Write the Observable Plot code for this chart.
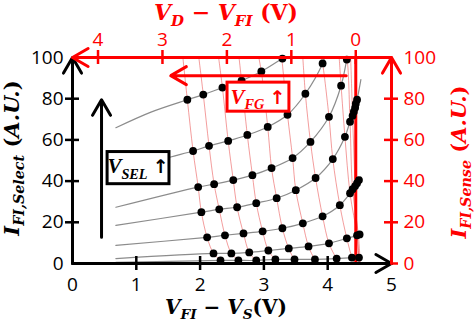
<!DOCTYPE html>
<html>
<head>
<meta charset="utf-8">
<script src="https://cdn.jsdelivr.net/npm/d3@7"></script>
<script src="https://cdn.jsdelivr.net/npm/@observablehq/plot@0.6"></script>
<style>
html,body{margin:0;padding:0;background:#fff;}
#chart svg{display:block;}
</style>
</head>
<body>
<div id="chart"></div>
<script>
// ---- axes / ticks ----
const xDomain = [0, 5];
const yDomain = [0, 100];
const xTickLabels = [0, 1, 2, 3, 4, 5];
const xTickMarks = [1, 2, 3, 4];
const yTickLabels = [0, 20, 40, 60, 80, 100];
const yTickMarksLeft = [20, 40, 60, 80];
const yTickMarksRight = [0, 20, 40, 60, 80];
const topTickLabels = [4, 3, 2, 1, 0];          // V_D − V_FI (V)
const topOffset = 4.44, topSlope = 1.01;        // V_FI − V_S = topOffset − topSlope·(V_D − V_FI)
const vdBoundary = [0];                         // V_D − V_FI = 0

// ---- select characteristics (grey), [V_FI − V_S, I] ----
const selA = [[0.68,65.9],[1.23,73.5],[1.80,79.5],[2.05,82.0],[2.35,85.4],[2.65,88.8],[2.96,93.2],[3.29,99.5],[3.32,100]];
const selB = [[0.68,44.4],[1.54,51.7],[1.89,54.6],[2.14,57.1],[2.44,59.5],[2.74,62.4],[3.06,66.3],[3.37,72.2],[3.65,82.4],[3.92,97.1],[3.95,100]];
const selC = [[0.68,27.3],[1.97,37.1],[2.22,38.5],[2.52,40.5],[2.82,42.9],[3.12,46.3],[3.45,51.2],[3.73,59.0],[4.02,71.2],[4.21,86.3],[4.30,99.0],[4.31,100]];
const selD = [[0.68,18.5],[2.02,24.9],[2.30,26.3],[2.58,27.3],[2.88,29.3],[3.20,31.7],[3.50,35.6],[3.81,41.5],[4.08,50.7],[4.27,61.5],[4.35,68.8],[4.41,73.7],[4.46,79.5],[4.52,89.3]];
const selE = [[0.68,8.8],[2.11,12.7],[2.39,13.7],[2.68,14.6],[2.98,15.6],[3.29,17.1],[3.61,19.5],[3.92,22.9],[4.19,28.3],[4.35,34.1],[4.43,37.6],[4.49,40.5],[4.52,42.0]];
const selF = [[0.68,2.4],[2.21,4.9],[2.49,4.9],[2.77,5.4],[3.07,6.3],[3.39,7.3],[3.70,8.3],[4.02,9.8],[4.30,12.2],[4.46,13.7],[4.52,15.1]];
const selG = [[0.68,0.5],[2.32,1.5],[2.60,1.5],[2.88,1.5],[3.18,2.0],[3.48,2.0],[3.80,2.0],[4.14,2.4],[4.38,2.9],[4.50,2.9]];

// ---- sense characteristics (red), [V_FI − V_S, I] ----
const sense1  = [[1.73,100],[1.80,79.5],[1.89,54.6],[1.97,37.1],[2.02,24.9],[2.11,12.7],[2.21,4.9],[2.32,1.5],[2.40,0]];
const sense2  = [[1.98,100],[2.05,82.0],[2.14,57.1],[2.22,38.5],[2.30,26.3],[2.39,13.7],[2.49,4.9],[2.60,1.5],[2.68,0]];
const sense3  = [[2.29,100],[2.35,85.4],[2.44,59.5],[2.52,40.5],[2.58,27.3],[2.68,14.6],[2.77,5.4],[2.88,1.5],[2.96,0]];
const sense4  = [[2.61,100],[2.65,88.8],[2.74,62.4],[2.82,42.9],[2.88,29.3],[2.98,15.6],[3.07,6.3],[3.18,2.0],[3.26,0]];
const sense5  = [[2.92,100],[2.96,93.2],[3.06,66.3],[3.12,46.3],[3.20,31.7],[3.29,17.1],[3.39,7.3],[3.48,2.0],[3.56,0]];
const sense6  = [[3.28,100],[3.37,72.2],[3.45,51.2],[3.50,35.6],[3.61,19.5],[3.70,8.3],[3.80,2.0],[3.87,0]];
const sense7  = [[3.61,100],[3.65,82.4],[3.73,59.0],[3.81,41.5],[3.92,22.9],[4.02,9.8],[4.14,2.4],[4.20,0]];
const sense8  = [[3.90,100],[3.92,97.1],[4.02,71.2],[4.08,50.7],[4.19,28.3],[4.30,12.2],[4.38,2.9],[4.42,0]];
const sense9  = [[4.18,100],[4.21,86.3],[4.27,61.5],[4.35,34.1],[4.46,13.7],[4.49,2.9],[4.50,0]];
const sense10 = [[4.28,100],[4.30,99.0],[4.35,68.8],[4.39,36.1],[4.48,14.1],[4.51,0]];
const sense11 = [[4.36,100],[4.39,71.7],[4.43,37.6],[4.47,10.0],[4.49,0]];

// ---- operating points (black dots), [V_FI − V_S, I] ----
const dotsA = [[1.80,79.5],[2.05,82.0],[2.35,85.4],[2.65,88.8],[2.96,93.2],[3.29,99.5]];
const dotsB = [[1.89,54.6],[2.14,57.1],[2.44,59.5],[2.74,62.4],[3.06,66.3],[3.37,72.2],[3.65,82.4],[3.92,97.1]];
const dotsC = [[1.97,37.1],[2.22,38.5],[2.52,40.5],[2.82,42.9],[3.12,46.3],[3.45,51.2],[3.73,59.0],[4.02,71.2],[4.21,86.3],[4.30,99.0]];
const dotsD = [[2.02,24.9],[2.30,26.3],[2.58,27.3],[2.88,29.3],[3.20,31.7],[3.50,35.6],[3.81,41.5],[4.08,50.7],[4.27,61.5],[4.35,68.8],[4.39,71.7],[4.41,73.7],[4.43,75.6],[4.44,77.6],[4.46,79.5]];
const dotsE = [[2.11,12.7],[2.39,13.7],[2.68,14.6],[2.98,15.6],[3.29,17.1],[3.61,19.5],[3.92,22.9],[4.19,28.3],[4.35,34.1],[4.39,36.1],[4.43,37.6],[4.46,39.0],[4.49,40.5]];
const dotsF = [[2.21,4.9],[2.49,4.9],[2.77,5.4],[3.07,6.3],[3.39,7.3],[3.70,8.3],[4.02,9.8],[4.30,12.2],[4.46,13.7],[4.50,14.1]];
const dotsG = [[2.32,1.5],[2.60,1.5],[2.88,1.5],[3.18,2.0],[3.48,2.0],[3.80,2.0],[4.14,2.4],[4.38,2.9],[4.49,2.9]];

// ---- annotations (data coordinates) ----
const selArrow = {x: 0.455, y1: 12.7, y2: 79.5};
const selBox = {x1: 0.55, x2: 1.52, y1: 38.5, y2: 54.1};
const selText = {x: 1.035, y: 43.6};
const fgArrow = {x1: 4.29, x2: 1.54, y: 91.2};
const fgBox = {x1: 2.43, x2: 3.40, y1: 73.7, y2: 87.8};
const fgText = {x: 2.915, y: 77.3};

const RED = "#ff0000";
const toRows = (arrs, key) => arrs.flatMap((a, k) => a.map(([x, y]) => ({x, y, id: key + k})));
const selectRows = toRows([selA, selB, selC, selD, selE, selF, selG], "s");
const senseRows = toRows([sense1, sense2, sense3, sense4, sense5, sense6, sense7, sense8, sense9, sense10, sense11], "r");
const dotRows = toRows([dotsA, dotsB, dotsC, dotsD, dotsE, dotsF, dotsG], "d");
const vd2x = v => topOffset - topSlope * v;

const chart = Plot.plot({
  width: 474, height: 322,
  marginLeft: 72, marginRight: 83, marginTop: 57, marginBottom: 59,
  x: {domain: xDomain},
  y: {domain: yDomain},
  style: {fontFamily: "'Open Sans', sans-serif", fontSize: "19px", background: "#fff", overflow: "visible"},
  marks: [
    Plot.line(senseRows, {x: "x", y: "y", z: "id", curve: "catmull-rom", stroke: "#e53030", strokeWidth: 0.8, strokeOpacity: 0.6}),
    Plot.ruleX(vdBoundary, {x: vd2x, y1: yDomain[0], y2: yDomain[1], stroke: RED, strokeWidth: 3}),
    Plot.line(selectRows, {x: "x", y: "y", z: "id", curve: "catmull-rom", stroke: "#8c8c8c", strokeWidth: 1.2}),
    Plot.dot(dotRows, {x: "x", y: "y", r: 3.9, fill: "#000"}),
    // annotations
    Plot.arrow([selArrow], {x1: "x", y1: "y1", x2: "x", y2: "y2", stroke: "#000", strokeWidth: 3, headLength: 9}),
    Plot.rect([selBox], {x1: "x1", x2: "x2", y1: "y1", y2: "y2", fill: "#fff", stroke: "#000", strokeWidth: 3}),
    Plot.arrow([fgArrow], {x1: "x1", y1: "y", x2: "x2", y2: "y", stroke: RED, strokeWidth: 3, headLength: 9}),
    Plot.rect([fgBox], {x1: "x1", x2: "x2", y1: "y1", y2: "y2", fill: "#fff", stroke: RED, strokeWidth: 3}),
    // tick marks (crossing the axis lines)
    Plot.ruleX(xTickMarks, {x: d => d, y1: yDomain[0], y2: yDomain[0], insetTop: -7, insetBottom: -7, stroke: "#000", strokeWidth: 2.5}),
    Plot.ruleX(topTickLabels, {x: vd2x, y1: yDomain[1], y2: yDomain[1], insetTop: -7, insetBottom: -7, stroke: RED, strokeWidth: 2.5}),
    Plot.ruleY(yTickMarksLeft, {y: d => d, x1: xDomain[0], x2: xDomain[0], insetLeft: -7, insetRight: -7, stroke: "#000", strokeWidth: 2.5}),
    Plot.ruleY(yTickMarksRight, {y: d => d, x1: xDomain[1], x2: xDomain[1], insetLeft: -7, insetRight: -7, stroke: RED, strokeWidth: 2.5}),
    // axis lines with arrowheads
    Plot.arrow([0], {x1: xDomain[0], y1: yDomain[0], x2: xDomain[1], y2: yDomain[0], stroke: "#000", strokeWidth: 3, headLength: 9}),
    Plot.arrow([0], {x1: xDomain[0], y1: yDomain[0], x2: xDomain[0], y2: yDomain[1], stroke: "#000", strokeWidth: 3, headLength: 9}),
    Plot.arrow([0], {x1: xDomain[1], y1: yDomain[0], x2: xDomain[1], y2: yDomain[1], stroke: RED, strokeWidth: 3, headLength: 9}),
    Plot.arrow([0], {x1: xDomain[1], y1: yDomain[1], x2: xDomain[0], y2: yDomain[1], stroke: RED, strokeWidth: 3, headLength: 9}),
    // tick labels
    Plot.axisX({anchor: "bottom", ticks: xTickLabels, tickFormat: d => d, tickSize: 0, tickPadding: 14}),
    Plot.axisY({anchor: "left", ticks: yTickLabels, tickFormat: d => d, tickSize: 0, tickPadding: 9}),
    Plot.axisY({anchor: "right", ticks: yTickLabels, tickFormat: d => d, tickSize: 0, tickPadding: 12, color: RED}),
    Plot.axisX({anchor: "top", ticks: topTickLabels.map(vd2x), tickFormat: x => Math.round((topOffset - x) / topSlope), tickSize: 0, tickPadding: 12, color: RED})
  ]
});
document.getElementById("chart").appendChild(chart);

// rich text (subscripts) for titles and annotation labels
const svg = d3.select(chart);
const sx = chart.scale("x").apply, sy = chart.scale("y").apply;
function rich(parts, {x, y, rotate = 0, fill = "#000", size = 22, anchor = "middle", font = "'DejaVu Serif', serif"}) {
  const t = svg.append("text")
    .attr("transform", `translate(${x},${y}) rotate(${rotate})`)
    .attr("text-anchor", anchor).attr("fill", fill)
    .attr("font-family", font).attr("font-weight", "bold")
    .attr("font-size", size);
  let shift = 0;
  for (const [txt, style] of parts) {
    const sub = style.includes("s"), it = style.includes("i"), arrow = style.includes("a");
    const target = sub ? size * 0.26 : 0;
    const s = t.append("tspan").text(txt).attr("dy", target - shift)
      .attr("font-size", sub ? size * 0.68 : size)
      .attr("font-style", it ? "italic" : "normal");
    if (arrow) s.attr("font-family", "'DejaVu Sans', sans-serif").attr("font-size", size * 0.9);
    shift = target;
  }
  return t;
}
rich([["V","i"],["D","is"],[" − ",""],["V","i"],["FI","is"],[" (V)",""]], {x: 226, y: 20, fill: RED});
rich([["V","i"],["FI","is"],[" − ",""],["V","i"],["S","is"],["(V)",""]], {x: 226, y: 314, size: 20});
rich([["I","i"],["FI,Select","is"],[" (",""],["A.U.","i"],[")",""]], {x: 19, y: 158, rotate: -90, size: 21});
rich([["I","i"],["FI,Sense","is"],[" (",""],["A.U.","i"],[")",""]], {x: 466, y: 162, rotate: -90, fill: RED, size: 21});
const annFont = "'Liberation Serif', serif";
rich([["V","i"],["SEL","is"],[" ",""],["↑","a"]], {x: sx(selText.x), y: sy(selText.y), size: 21, font: annFont});
rich([["V","i"],["FG","is"],[" ",""],["↑","a"]], {x: sx(fgText.x), y: sy(fgText.y), size: 21, fill: RED, font: annFont});
</script>
</body>
</html>
